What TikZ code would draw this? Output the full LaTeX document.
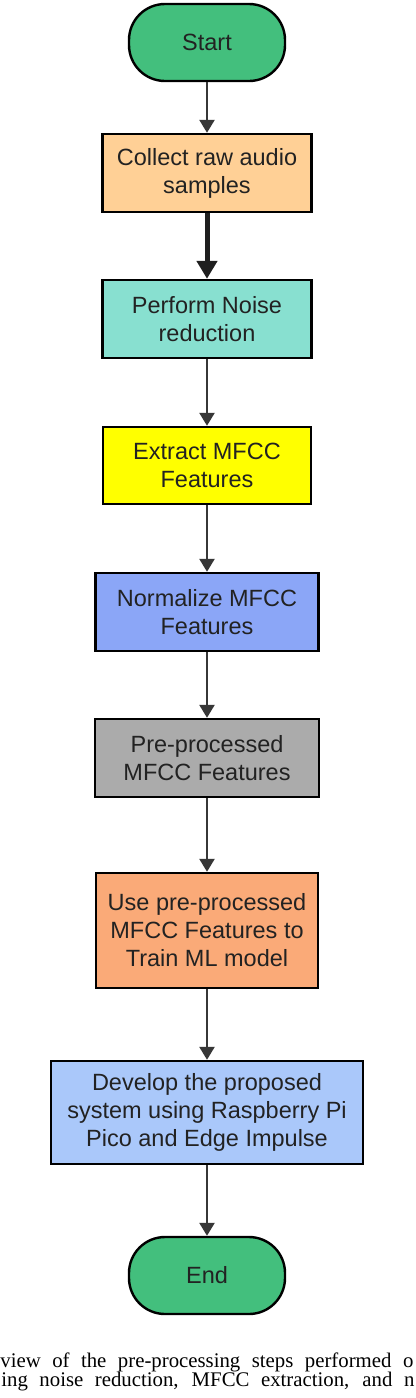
\documentclass[tikz,border=0pt]{standalone}
\usepackage{fontspec}
\setmainfont{Liberation Sans}
\newfontfamily\capfont{Liberation Serif}
\usetikzlibrary{arrows.meta}
\definecolor{cstart}{RGB}{67,191,125}
\definecolor{ccollect}{RGB}{255,208,150}
\definecolor{cperform}{RGB}{136,224,208}
\definecolor{cextract}{RGB}{255,255,0}
\definecolor{cnormal}{RGB}{139,166,247}
\definecolor{cpre}{RGB}{171,171,171}
\definecolor{cuse}{RGB}{250,170,120}
\definecolor{cdevelop}{RGB}{170,200,250}
\definecolor{txt}{RGB}{34,34,34}
\definecolor{arrc}{RGB}{55,55,55}
\begin{document}
\begin{tikzpicture}[x=0.5pt,y=-0.5pt,
  box/.style={draw=black, line width=1.2pt, align=center,
    font=\fontsize{11.75}{14}\selectfont, text=txt, inner sep=0pt},
  term/.style={box, rounded corners=18pt, minimum width=78pt, minimum height=38.5pt},
  arr/.style={draw=arrc, line width=1.2pt, -{Triangle[width=7.5pt,length=6.5pt]}},
  thickarr/.style={draw=black!88, line width=2.5pt, -{Triangle[width=10pt,length=9pt]}},
  captext/.style={anchor=base west, inner sep=0pt, font=\capfont\fontsize{10.4}{12}\selectfont}]
\fill[white] (0,0) rectangle (416,1398);
\useasboundingbox (0,0) rectangle (416,1398);

\node[term, fill=cstart] (start) at (207,42.5) {Start};
\node[box, fill=ccollect, minimum width=104.5pt, minimum height=39pt] (collect) at (207,173)
  {Collect raw audio\\samples};
\node[box, fill=cperform, minimum width=104.5pt, minimum height=39pt] (perform) at (207,319)
  {Perform Noise\\reduction};
\node[box, fill=cextract, minimum width=104pt, minimum height=38.5pt] (extract) at (207,465.5)
  {Extract MFCC\\Features};
\node[box, fill=cnormal, minimum width=111.5pt, minimum height=39pt] (normal) at (207,612)
  {Normalize MFCC\\Features};
\node[box, fill=cpre, minimum width=112pt, minimum height=39pt] (pre) at (207,758)
  {Pre-processed\\MFCC Features};
\node[box, fill=cuse, minimum width=111pt, minimum height=57.5pt] (use) at (207,930.5)
  {Use pre-processed\\MFCC Features to\\Train ML model};
\node[box, fill=cdevelop, minimum width=156pt, minimum height=51.5pt] (develop) at (207,1112.5)
  {Develop the proposed\\system using Raspberry Pi\\Pico and Edge Impulse};
\node[term, fill=cstart] (end) at (207,1275.5) {End};

\draw[arr] (start) -- (collect);
\draw[thickarr] (collect) -- (perform);
\draw[arr] (perform) -- (extract);
\draw[arr] (extract) -- (normal);
\draw[arr] (normal) -- (pre);
\draw[arr] (pre) -- (use);
\draw[arr] (use) -- (develop);
\draw[arr] (develop) -- (end);

\node[captext] (cap1) at (0,1367) {\makebox[206.5pt][s]{view of the pre-processing steps performed o}};
\node[captext] (cap2) at (1,1386) {\makebox[206.5pt][s]{ing noise reduction, MFCC extraction, and n}};
\end{tikzpicture}
\end{document}
